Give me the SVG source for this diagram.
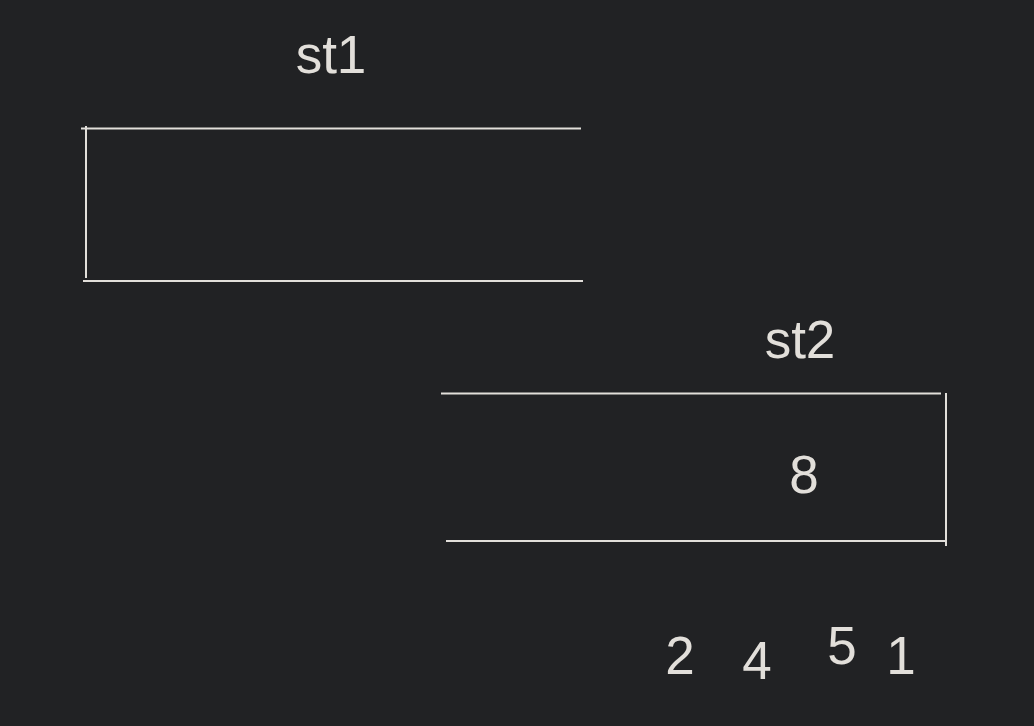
<svg xmlns="http://www.w3.org/2000/svg" width="1034" height="726" viewBox="0 0 1034 726">
<style>
.ln{stroke:#e2dfda;stroke-width:2;fill:none}
.t{font-family:"Liberation Sans",Arial,sans-serif;font-size:53px;fill:#e2dfda;text-anchor:middle}
</style>
<rect width="1034" height="726" fill="#212224"/>
<g id="st1">
<text class="t" x="331" y="73">st1</text>
<line class="ln" x1="81" y1="128.5" x2="581" y2="128.5"/>
<line class="ln" x1="86" y1="126" x2="86" y2="278"/>
<line class="ln" x1="83" y1="281" x2="583" y2="281"/>
</g>
<g id="st2">
<text class="t" x="800" y="358">st2</text>
<line class="ln" x1="441" y1="393.5" x2="941" y2="393.5"/>
<line class="ln" x1="946" y1="393" x2="946" y2="546"/>
<line class="ln" x1="446" y1="541" x2="946" y2="541"/>
<text class="t" x="804" y="493">8</text>
</g>
<g id="connectors"></g>
<g id="values">
<text class="t" x="680" y="674">2</text>
<text class="t" x="757" y="679">4</text>
<text class="t" x="842" y="664">5</text>
<text class="t" x="901" y="674">1</text>
</g>
</svg>
